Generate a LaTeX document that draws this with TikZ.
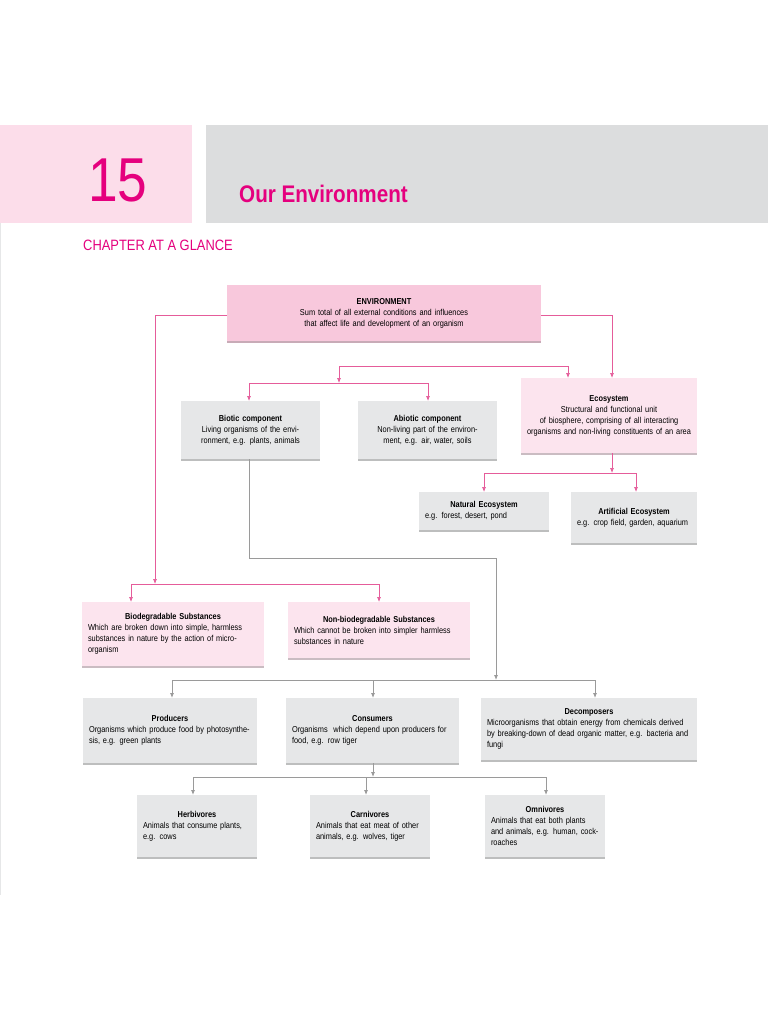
\documentclass[tikz,border=0pt]{standalone}
\usepackage{fontspec}
\setmainfont{Liberation Sans}[FakeStretch=0.86]
\usetikzlibrary{calc}
\definecolor{mag}{HTML}{E5007E}
\definecolor{plink}{HTML}{E55C9A}
\definecolor{gline}{HTML}{9A9A9A}
\definecolor{envp}{HTML}{F8C8DC}
\definecolor{lpink}{HTML}{FCE4EE}
\definecolor{gbox}{HTML}{E6E7E8}
\definecolor{hpink}{HTML}{FCDDEA}
\definecolor{hgrey}{HTML}{DCDDDE}
\newcommand\bx[8]{%
 \fill[#6!75!black!80] (#2,#5-3) rectangle (#4,#5);
 \node[box,fill=#6,minimum width={(#4-#2)*1pt},minimum height={(#5-#3-2)*1pt},text width={(#4-#2-12)*1pt},align=#7] (#1) at ({(#2+#4)/2},{(#3+#5-2)/2}) {#8};}
\tikzset{box/.style={inner sep=0pt,outer sep=0pt,font=\fontsize{8.6}{11}\selectfont},
 parr/.style={plink,line width=0.7pt,-{Latex[length=5pt,width=4pt]}},
 pl/.style={plink,line width=0.7pt},
 garr/.style={gline,line width=0.8pt,-{Latex[length=5pt,width=4pt]}},
 gl/.style={gline,line width=0.8pt}}
\usetikzlibrary{arrows.meta}
\begin{document}
\begin{tikzpicture}[x=1pt,y=-1pt]
\useasboundingbox[fill=white] (0,0) rectangle (768,1024);
\fill[hpink] (0,125) rectangle (192,223);
\fill[hgrey] (206,125) rectangle (768,223);
\draw[gbox,line width=1pt] (0.5,223) -- (0.5,895);
\node[mag,font=\fontsize{62}{62}\selectfont,anchor=center] (num) at (118,180) {15};
\node[mag,font=\fontsize{24}{24}\selectfont\bfseries,anchor=west,inner sep=0pt] (title) at (239,194) {Our Environment};
\node[mag,font=\fontsize{15}{15}\selectfont,anchor=west,inner sep=0pt] (cag) at (83,245) {CHAPTER AT A GLANCE};
% boxes
\bx{env}{227}{285}{541}{343}{envp}{center}{\textbf{ENVIRONMENT}\\Sum total of all external conditions and influences that affect life and development of an organism}{}
\bx{bio}{181}{401}{320}{461}{gbox}{center}{\textbf{Biotic component}\\Living organisms of the environment, e.g. plants, animals}{}
\bx{abio}{358}{401}{497}{461}{gbox}{center}{\textbf{Abiotic component}\\Non-living part of the environment, e.g. air, water, soils}{}
\bx{eco}{521}{378}{697}{455}{lpink}{center}{\textbf{Ecosystem}\\Structural and functional unit\\of biosphere, comprising of all interacting organisms and non-living constituents of an area}{}
\bx{nat}{419}{492}{549}{532}{gbox}{left}{\centering\textbf{Natural Ecosystem}\par\raggedright e.g. forest, desert, pond}{}
\bx{art}{571}{492}{697}{545}{gbox}{left}{\centering\textbf{Artificial Ecosystem}\par\raggedright e.g. crop field, garden, aquarium}{}
\bx{biod}{82}{602}{264}{668}{lpink}{left}{\centering\textbf{Biodegradable Substances}\par\raggedright Which are broken down into simple, harmless substances in nature by the action of micro-organism}{}
\bx{nbio}{288}{602}{470}{660}{lpink}{left}{\centering\textbf{Non-biodegradable Substances}\par\raggedright Which cannot be broken into simpler harmless substances in nature}{}
\bx{prod}{83}{698}{257}{765}{gbox}{left}{\centering\textbf{Producers}\par\raggedright Organisms which produce food by photosynthesis, e.g. green plants}{}
\bx{cons}{286}{698}{459}{765}{gbox}{left}{\centering\textbf{Consumers}\par\raggedright Organisms\ \ which depend upon producers for food, e.g. row tiger}{}
\bx{deco}{481}{698}{697}{762}{gbox}{left}{\centering\textbf{Decomposers}\par\raggedright Microorganisms that obtain energy from chemicals derived by breaking-down of dead organic matter, e.g. bacteria and fungi}{}
\bx{herb}{137}{795}{257}{859}{gbox}{left}{\centering\textbf{Herbivores}\par\raggedright Animals that consume plants, e.g. cows}{}
\bx{carn}{310}{795}{430}{859}{gbox}{left}{\centering\textbf{Carnivores}\par\raggedright Animals that eat meat of other animals, e.g. wolves, tiger}{}
\bx{omni}{485}{795}{605}{859}{gbox}{left}{\centering\textbf{Omnivores}\par\raggedright Animals that eat both plants and animals, e.g. human, cockroaches}{}
% pink connectors
\coordinate (bl) at (155,584);
\draw[parr] (env.west |- 0,315) -| (bl);
\draw[pl] (131,584) -- (379,584);
\draw[parr] (131,584) -- (131 ,602);
\draw[parr] (379,584) -- (379,602);
\draw[parr] (env.east |- 0,315) -| (eco.north -| 612,0);
\draw[pl] (339,366) -- (568,366);
\draw[parr] (339,366) -- (339,383);
\draw[parr] (568,366) -- (568,378);
\draw[pl] (249,383) -- (428,383);
\draw[parr] (249,383) -- (bio.north -| 249,0);
\draw[parr] (428,383) -- (abio.north -| 428,0);
\draw[parr] (eco.south -| 612,0) -- (612,473);
\draw[pl] (484,473) -- (636,473);
\draw[parr] (484,473) -- (nat.north -| 484,0);
\draw[parr] (636,473) -- (art.north -| 636,0);
% grey connectors
\draw[garr] (bio.south -| 249,0) |- (496,558) -- (496,680);
\draw[gl] (172,680) -- (595,680);
\draw[garr] (172,680) -- (prod.north -| 172,0);
\draw[garr] (373,680) -- (cons.north -| 373,0);
\draw[garr] (595,680) -- (deco.north -| 595,0);
\draw[garr] (cons.south -| 373,0) -- (373,777);
\draw[gl] (193,777) -- (546,777);
\draw[garr] (193,777) -- (herb.north -| 193,0);
\draw[garr] (366,777) -- (carn.north -| 366,0);
\draw[garr] (546,777) -- (omni.north -| 546,0);
\end{tikzpicture}
\end{document}
